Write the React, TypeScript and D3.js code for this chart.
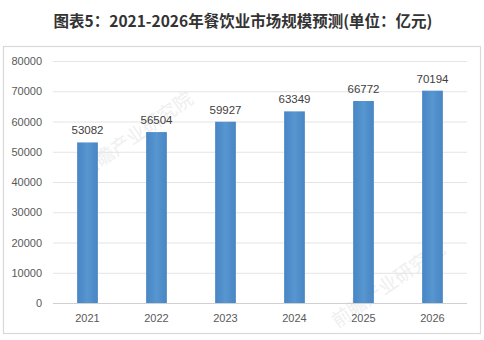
import React from "react";
import * as d3 from "d3";

const years = ["2021", "2022", "2023", "2024", "2025", "2026"];
const marketSize = [53082, 56504, 59927, 63349, 66772, 70194];
const yTicks = [0, 10000, 20000, 30000, 40000, 50000, 60000, 70000, 80000];
const title = "图表5：2021-2026年餐饮业市场规模预测(单位：亿元)";
const watermark = "前瞻产业研究院";

const W = 484;
const H = 340;
const plot = { left: 53, right: 467, top: 61, bottom: 303 };

export default function App() {
  const x = d3
    .scaleBand<string>()
    .domain(years)
    .range([plot.left, plot.right])
    .paddingInner(0.7)
    .paddingOuter(0.35);
  const y = d3.scaleLinear().domain([0, 80000]).range([plot.bottom, plot.top]);
  const font = "'Liberation Sans', 'DejaVu Sans', sans-serif";

  return (
    <svg
      width={W}
      height={H}
      style={{ position: "fixed", left: 0, top: 0, background: "#fff" }}
    >
      <defs>
        <linearGradient id="barFill" x1="0" x2="1" y1="0" y2="0">
          <stop offset="0" stopColor="#4785c4" />
          <stop offset="0.5" stopColor="#5896d1" />
          <stop offset="1" stopColor="#4785c4" />
        </linearGradient>
      </defs>
      <text
        x={243}
        y={27}
        textAnchor="middle"
        fontFamily="'Noto Sans CJK SC', sans-serif"
        fontWeight="bold"
        fontSize={15.5}
        fill="#333"
      >
        {title}
      </text>
      <rect
        x={3.5}
        y={46.5}
        width={477}
        height={287}
        fill="#fff"
        stroke="#d9d9d9"
        strokeWidth={1.2}
      />
      {[
        { cx: 140, cy: 140 },
        { cx: 392, cy: 290 },
      ].map((w, i) => (
        <text
          key={i}
          x={w.cx}
          y={w.cy}
          textAnchor="middle"
          fontFamily="'Noto Sans CJK SC', sans-serif"
          fontSize={19}
          fill="#efefef"
          transform={`rotate(-35 ${w.cx} ${w.cy})`}
        >
          {watermark}
        </text>
      ))}
      {yTicks.map((t) => (
        <g key={t}>
          <line
            x1={plot.left}
            x2={plot.right}
            y1={y(t) + 0.5}
            y2={y(t) + 0.5}
            stroke={t === 0 ? "#d0d0d0" : "#e4e4e4"}
          />
          <text
            x={42}
            y={y(t) + 4}
            textAnchor="end"
            fontFamily={font}
            fontSize={11}
            fill="#595959"
          >
            {t}
          </text>
        </g>
      ))}
      {years.map((yr, i) => {
        const v = marketSize[i];
        const bx = x(yr)!;
        const bw = x.bandwidth();
        return (
          <g key={yr}>
            <rect
              x={bx}
              y={y(v)}
              width={bw}
              height={plot.bottom - y(v)}
              fill="url(#barFill)"
            />
            <text
              x={bx + bw / 2}
              y={y(v) - 8}
              textAnchor="middle"
              fontFamily={font}
              fontSize={11.5}
              fill="#404040"
            >
              {v}
            </text>
            <text
              x={bx + bw / 2}
              y={322}
              textAnchor="middle"
              fontFamily={font}
              fontSize={11}
              fill="#595959"
            >
              {yr}
            </text>
          </g>
        );
      })}
    </svg>
  );
}
